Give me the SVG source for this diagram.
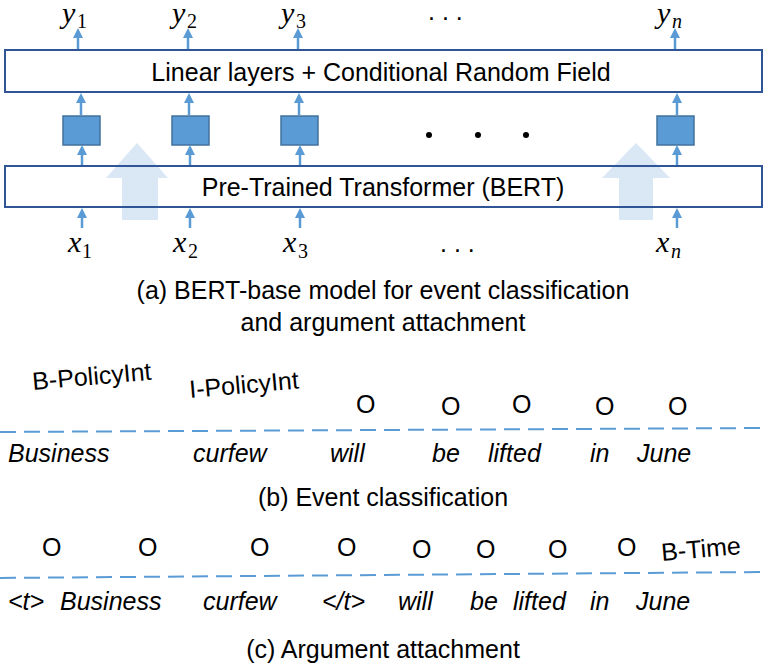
<svg xmlns="http://www.w3.org/2000/svg" width="766" height="672" viewBox="0 0 766 672">
<style>
.box{fill:none;stroke:#2f5597;stroke-width:2}
.sq{fill:#5b9bd5;stroke:#41719c;stroke-width:1.5}
.ar{stroke:#5b9bd5;stroke-width:2.5;fill:none;marker-end:url(#ah)}
.t{font-family:"Liberation Sans",Calibri,sans-serif;font-size:25px;fill:#000}
.m{font-family:"Liberation Serif",serif;font-style:italic;font-size:30px}
.s{font-family:"Liberation Serif",serif;font-size:20px}
.i{font-style:italic}
.d{stroke:#5b9bd5;stroke-width:2;stroke-dasharray:16,8}
</style>
<defs><marker id="ah" markerWidth="4" markerHeight="4" refX="2" refY="2" orient="auto" markerUnits="strokeWidth"><path d="M0,0L4,2L0,4z" fill="#5b9bd5"/></marker></defs>
<g id="bigarrows" fill="#dae8f5">
<path d="M122,220V178H106L137,143L168,178H158V220Z"/>
<path d="M619,220V178H602L636,143L670,178H653V220Z"/>
</g>
<g id="crf"><rect class="box" x="5" y="50" width="757" height="42"/><text class="t" x="381" y="81" text-anchor="middle">Linear layers + Conditional Random Field</text></g>
<g id="bert"><rect class="box" x="5" y="166" width="757" height="41"/><text class="t" x="383" y="196" text-anchor="middle">Pre-Trained Transformer (BERT)</text></g>
<g id="squares">
<rect class="sq" x="63" y="116" width="37" height="29"/>
<rect class="sq" x="172" y="116" width="37" height="29"/>
<rect class="sq" x="281" y="116" width="37" height="29"/>
<rect class="sq" x="657" y="116" width="37" height="29"/>
<circle cx="429" cy="135" r="3"/><circle cx="478" cy="135" r="3"/><circle cx="526" cy="135" r="3"/>
</g>
<g id="connectors">
<path class="ar" d="M78,49V33"/><path class="ar" d="M188,49V33"/><path class="ar" d="M298,49V33"/><path class="ar" d="M675,49V33"/>
<path class="ar" d="M81,115V98"/><path class="ar" d="M189,115V98"/><path class="ar" d="M299,115V98"/><path class="ar" d="M677,115V98"/>
<path class="ar" d="M82,165V150"/><path class="ar" d="M190,165V150"/><path class="ar" d="M300,165V150"/><path class="ar" d="M677,165V150"/>
<path class="ar" d="M82,228V213"/><path class="ar" d="M190,228V213"/><path class="ar" d="M300,228V213"/><path class="ar" d="M677,228V213"/>
</g>
<g id="labels">
<text class="m" x="62" y="23">y</text><text class="s" x="77" y="28">1</text>
<text class="m" x="172" y="23">y</text><text class="s" x="187" y="28">2</text>
<text class="m" x="281" y="23">y</text><text class="s" x="296" y="28">3</text>
<text class="t" x="428" y="20">.    .    .</text>
<text class="m" x="657" y="23">y</text><text class="s i" x="672" y="28">n</text>
<text class="m" x="68" y="252">x</text><text class="s" x="82" y="258">1</text>
<text class="m" x="173" y="252">x</text><text class="s" x="188" y="258">2</text>
<text class="m" x="283" y="252">x</text><text class="s" x="298" y="258">3</text>
<text class="t" x="440" y="252">.    .    .</text>
<text class="m" x="656" y="252">x</text><text class="s i" x="671" y="258">n</text>
<text class="t" x="383" y="299" text-anchor="middle">(a) BERT-base model for event classification</text>
<text class="t" x="383" y="331" text-anchor="middle">and argument attachment</text>
</g>
<g id="event">
<text class="t" x="33" y="390" transform="rotate(-5 33 390)">B-PolicyInt</text>
<text class="t" x="190" y="398" transform="rotate(-5 190 398)">I-PolicyInt</text>
<text class="t" x="356" y="413">O</text><text class="t" x="441" y="415">O</text><text class="t" x="512" y="413">O</text><text class="t" x="595" y="415">O</text><text class="t" x="668" y="415">O</text>
<line class="d" x1="0" y1="432" x2="766" y2="428"/>
<text class="t i" x="8" y="462">Business</text>
<text class="t i" x="193" y="462">curfew</text>
<text class="t i" x="330" y="462">will</text>
<text class="t i" x="432" y="462">be</text>
<text class="t i" x="488" y="462">lifted</text>
<text class="t i" x="590" y="462">in</text>
<text class="t i" x="637" y="462">June</text>
<text class="t" x="383" y="506" text-anchor="middle">(b) Event classification</text>
</g>
<g id="argument">
<text class="t" x="42" y="556">O</text><text class="t" x="138" y="556">O</text><text class="t" x="250" y="556">O</text><text class="t" x="337" y="556">O</text><text class="t" x="412" y="558">O</text><text class="t" x="476" y="558">O</text><text class="t" x="548" y="558">O</text><text class="t" x="617" y="556">O</text>
<text class="t" x="662" y="561" transform="rotate(-5 662 561)">B-Time</text>
<line class="d" x1="0" y1="578" x2="766" y2="572"/>
<text class="t i" x="8" y="610">&lt;t&gt;</text>
<text class="t i" x="60" y="610">Business</text>
<text class="t i" x="203" y="610">curfew</text>
<text class="t i" x="322" y="610">&lt;/t&gt;</text>
<text class="t i" x="398" y="610">will</text>
<text class="t i" x="470" y="610">be</text>
<text class="t i" x="513" y="610">lifted</text>
<text class="t i" x="590" y="610">in</text>
<text class="t i" x="636" y="610">June</text>
<text class="t" x="383" y="658" text-anchor="middle">(c) Argument attachment</text>
</g>
</svg>
